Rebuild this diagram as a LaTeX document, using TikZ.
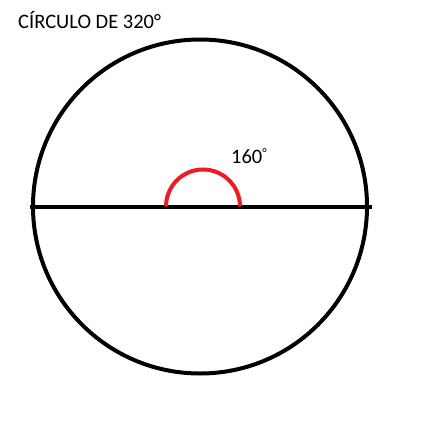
\documentclass[tikz,border=0pt]{standalone}
\usepackage{fontspec}
\setmainfont{Carlito}
\begin{document}
\begin{tikzpicture}[x=1pt,y=-1pt,
  stroke/.style={line width=4pt,black},
  arcstyle/.style={line width=4pt,color={rgb,255:red,237;green,28;blue,36}},
  label/.style={inner sep=0pt,anchor=base west,font=\fontsize{20.5}{22}\selectfont}]
\useasboundingbox[fill=white] (0,0) rectangle (422,422);
\coordinate (c) at (200,206.5);
\draw[stroke] (c) circle[radius=167];
\coordinate (l) at (30,206.5);
\coordinate (r) at (372,206.5);
\draw[stroke] (l) -- (r);
\draw[arcstyle] (166,206.5) arc[start angle=180,end angle=360,radius=37];
\node[label] (title) at (18,29) {CÍRCULO DE 320°};
\node[label] (ang) at (231,163) {160\raisebox{0.55ex}{\fontsize{13}{13}\selectfont°}};
\end{tikzpicture}
\end{document}
